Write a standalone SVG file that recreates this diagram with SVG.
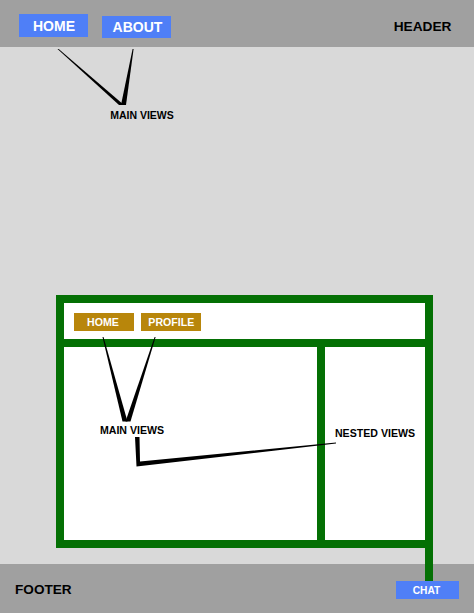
<svg xmlns="http://www.w3.org/2000/svg" width="474" height="613" viewBox="0 0 474 613">
<style>
.t{font-family:"Liberation Sans",Arial,sans-serif;font-weight:bold}
.w{fill:#fff}
.k{fill:#000}
.blue{fill:#4f7ff7}
.gold{fill:#b8860b}
.g{fill:none;stroke:#047004;stroke-width:8}
.wedge{fill:#000}
</style>
<rect x="0" y="0" width="474" height="613" fill="#d9d9d9"/>
<g id="header">
<rect x="0" y="0" width="474" height="47" fill="#a0a0a0"/>
<text class="t k" x="451.5" y="31" font-size="13.7" text-anchor="end">HEADER</text>
</g>
<g id="footer">
<rect x="0" y="564" width="474" height="49" fill="#a0a0a0"/>
<text class="t k" x="15" y="593.5" font-size="13.6">FOOTER</text>
</g>
<g id="home-top">
<rect class="blue" x="19" y="14" width="69" height="23"/>
<text class="t w" x="54" y="31" font-size="14" text-anchor="middle">HOME</text>
</g>
<g id="about-top">
<rect class="blue" x="102" y="16" width="69" height="22"/>
<text class="t w" x="137.5" y="32" font-size="14" text-anchor="middle">ABOUT</text>
</g>
<g id="main-views-top">
<text class="t k" x="142" y="119" font-size="10.5" text-anchor="middle">MAIN VIEWS</text>
</g>
<g id="nested-frame">
<rect x="60" y="299" width="369" height="245" fill="#fff"/>
<path class="g" d="M60,299 H429 V544 H60 Z M60,343 H429 M321,343 V544 M429,544 V582"/>
</g>
<g id="home-nested">
<rect class="gold" x="74" y="313" width="60" height="18"/>
<text class="t w" x="103" y="326" font-size="10.6" text-anchor="middle">HOME</text>
</g>
<g id="profile-nested">
<rect class="gold" x="141" y="313" width="60" height="18"/>
<text class="t w" x="171.3" y="326" font-size="10.6" text-anchor="middle">PROFILE</text>
</g>
<g id="main-views-nested">
<text class="t k" x="132" y="433.5" font-size="10.6" text-anchor="middle">MAIN VIEWS</text>
</g>
<g id="nested-views">
<text class="t k" x="375" y="436.8" font-size="10.6" text-anchor="middle">NESTED VIEWS</text>
</g>
<g id="chat">
<rect class="blue" x="396" y="581" width="63" height="18"/>
<text class="t w" x="426.5" y="594" font-size="10.2" text-anchor="middle">CHAT</text>
</g>
<g id="connectors">
<polygon class="wedge" points="57.5,49 58.7,49 124,105 119,105"/>
<polygon class="wedge" points="132.6,49 133.6,49 126,105 121,105"/>
<polygon class="wedge" points="102.5,337 103.5,337 127.5,421.5 122.5,421.5"/>
<polygon class="wedge" points="154.6,337 155.6,337 130.5,421.5 125.5,421.5"/>
<polygon class="wedge" points="135,437 139.5,437 140,461.5 336,442.5 336,443.5 136.5,466.5"/>
</g>
</svg>
